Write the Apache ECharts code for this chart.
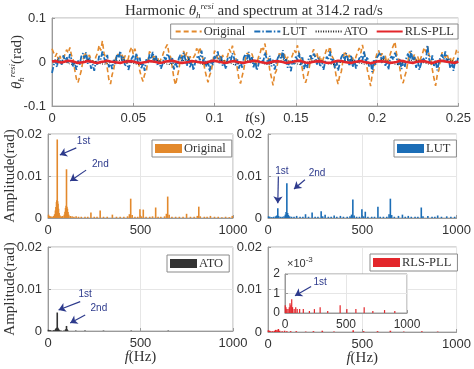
<!DOCTYPE html>
<html><head><meta charset="utf-8">
<script src="https://cdn.jsdelivr.net/npm/echarts@6/dist/echarts.min.js"></script>
<style>html,body{margin:0;padding:0;background:#fff}#c{width:474px;height:369px}</style>
</head><body><div id="c"></div>
<script>
// ---------- time-domain traces (rad) ----------
const STEP_FAST = 0.001;   // sample spacing of Original / LUT traces (s)
const STEP_SLOW = 0.002;   // sample spacing of ATO / RLS-PLL traces (s)
const ORIGINAL = [
.030,.034,.012,.020,.002,.014,-.005,.006,.018,.028,.020,.033,.015,.006,-.018,-.038,-.047,-.033,-.020,.002,
.022,.024,.008,.016,.006,.010,-.002,.012,.020,.038,.026,.048,.020,.010,-.014,-.040,-.050,-.029,-.016,.006,
.018,.022,.014,.020,.003,.015,-.004,.009,.026,.034,.018,.030,.014,.008,-.020,-.034,-.044,-.028,-.022,.003,
.024,.028,.009,.017,.005,.011,-.006,.007,.014,.026,.024,.040,.018,.011,-.012,-.037,-.052,-.035,-.018,.005,
.016,.025,.011,.022,.001,.013,-.003,.010,.017,.031,.019,.034,.016,.007,-.017,-.033,-.046,-.030,-.021,.002,
.026,.030,.007,.015,.004,.016,-.001,.008,.013,.029,.022,.037,.021,.012,-.015,-.039,-.049,-.032,-.017,.007,
.020,.023,.013,.019,.006,.009,-.005,.011,.019,.035,.027,.042,.017,.009,-.019,-.035,-.053,-.027,-.020,.001,
.023,.027,.010,.018,.003,.012,-.002,.006,.016,.027,.021,.038,.019,.010,-.016,-.038,-.047,-.034,-.019,.004,
.019,.029,.012,.021,.002,.014,-.004,.009,.018,.030,.023,.035,.015,.008,-.013,-.036,-.050,-.031,-.022,.003,
.025,.024,.008,.016,.005,.010,-.006,.012,.015,.032,.020,.039,.020,.011,-.018,-.034,-.055,-.029,-.018,.006,
.021,.026,.011,.020,.004,.015,-.003,.007,.017,.028,.025,.046,.018,.009,-.014,-.040,-.048,-.033,-.021,.002,
.024,.028,.009,.017,.003,.013,-.001,.010,.020,.033,.022,.036,.016,.007,-.017,-.037,-.054,-.030,-.019,.005,
.022,.025,.010,.019,.006,.011,-.004,.008,.014,.029,.021];
const LUT = [
-.025,-.008,.005,-.012,.010,.002,-.006,.015,.004,.012,
-.003,.018,.006,-.010,-.002,-.018,.003,-.007,.012,.020,
.008,.022,-.004,.010,-.015,-.005,-.020,.002,-.008,.014,
.006,.024,.010,-.002,.016,-.012,.000,-.016,.005,-.006,
.018,.009,.025,.003,.012,-.010,.004,-.018,-.004,.008,
.014,.002,.020,-.006,.010,-.014,-.002,-.020,.006,-.003,
.017,.007,.023,-.001,.014,-.008,.003,-.015,-.005,.011,
.005,.019,.012,-.004,.009,-.017,-.001,-.012,.008,.016,
.002,.021,.007,-.009,.013,-.013,.006,-.019,-.003,.009,
.015,.004,.026,.000,.011,-.011,.002,-.022,.005,-.007,
.013,.008,.024,-.003,.015,-.009,-.004,-.016,.007,.012,
.003,.020,.009,-.008,.006,-.015,.001,-.013,.010,.018,
.006,.023,-.002,.011,-.012,.004,-.019,-.006,.009,.013,
.001,.022,.008,-.005,.014,-.010,.005,-.017,-.002,.010,
.016,.006,.027,.002,.008,-.013,.000,-.021,.004,-.005,
.012,.005,.021,-.007,.013,-.016,-.003,-.014,.009,.015,
.004,.019,.011,-.006,.010,-.011,.003,-.018,-.001,.012,
.007,.024,-.003,.009,-.014,.002,-.020,-.004,.011,.017,
.002,.020,.008,-.009,.016,-.012,.006,-.015,-.003,.008,
.014,.003,.025,-.002,.012,-.010,.001,-.023,.006,-.006,
.011,.009,.022,-.004,.014,-.008,-.002,-.017,.008,.013,
.005,.021,.010,-.007,.007,-.016,.002,-.012,.009,.019,
.003,.026,-.001,.012,-.013,.005,-.018,-.005,.010,.014,
.000,.038,.007,-.006,.015,-.009,.004,-.019,-.002,.011,
.017,.005,.024,.001,.009,-.014,-.001,-.020,.003,-.004,
.012];
const ATO = [
.002,.004,.005,.003,.000,-.003,-.006,-.005,-.002,.001,
.003,.005,.004,.002,-.001,-.004,-.005,-.004,-.001,.002,
.003,.004,.005,.002,.000,-.003,-.005,-.006,-.002,.000,
.002,.005,.004,.003,-.001,-.004,-.006,-.004,-.001,.001,
.003,.004,.006,.002,.000,-.002,-.005,-.005,-.003,.001,
.002,.005,.004,.003,-.001,-.003,-.006,-.004,-.002,.000,
.003,.004,.005,.003,.000,-.004,-.005,-.005,-.001,.002,
.002,.005,.005,.002,-.001,-.003,-.006,-.004,-.002,.001,
.003,.004,.004,.003,.000,-.004,-.005,-.006,-.001,.000,
.002,.005,.005,.002,-.001,-.003,-.005,-.004,-.002,.002,
.003,.004,.006,.003,.000,-.004,-.006,-.005,-.001,.001,
.002,.005,.004,.002,-.001,-.003,-.005,-.004,-.003,.000,
.003,.004,.005,.003,.000,.001];
const RLS_PLL = [
.001,.002,.000,-.001,.001,.003,.002,.000,-.002,-.001,
.000,.002,.001,-.001,-.002,.000,.001,.003,.001,.000,
-.001,-.002,.000,.001,.002,.001,-.001,-.003,-.001,.000,
.002,.001,.000,-.002,-.001,.001,.002,.003,.001,-.001,
-.002,-.001,.000,.002,.001,.000,-.001,-.002,.000,.002,
.003,.001,.000,-.002,-.001,.001,.002,.000,-.001,-.002,
.000,.001,.003,.002,.000,-.001,-.003,-.001,.001,.002,
.001,.000,-.002,-.001,.000,.002,.003,.001,-.001,-.002,
.000,.001,.002,.001,-.001,-.002,-.001,.001,.003,.002,
.000,-.001,-.002,.000,.001,.002,.000,-.001,-.003,-.001,
.001,.002,.001,.000,-.002,-.001,.000,.003,.002,.000,
-.001,-.002,.000,.001,.002,.001,-.001,-.002,.000,.002,
.003,.001,.000,-.001,-.002,.001];

// ---------- spectra: [frequency Hz, amplitude rad] ----------
const ORIGINAL_SPEC = [[3,.0008],[8,.0005],[15,.0004],[22,.0003],[30,.0005],[36,.0009],[40,.0018],[43,.0026],[46,.0038],[48,.0042],
[50,.0187],[52,.0040],[54,.0034],[57,.0022],[60,.0012],[65,.0006],[72,.0004],[80,.0005],[88,.0008],[92,.0015],
[95,.0024],[98,.0029],[100,.0116],[102,.0027],[105,.0022],[108,.0014],[112,.0008],[120,.0005],[130,.0004],[140,.0003],
[152,.0004],[165,.0003],[180,.0003],[200,.0003],[215,.0003],[232,.0013],[250,.0003],[265,.0003],[282,.0018],[300,.0003],
[320,.0003],[348,.0008],[370,.0003],[390,.0003],[410,.0003],[430,.0004],[440,.0009],[447,.0046],[455,.0007],[470,.0003],
[485,.0003],[497,.0021],[505,.0004],[515,.0020],[530,.0003],[550,.0003],[565,.0004],[582,.0025],[595,.0003],[610,.0003],
[630,.0004],[640,.0010],[647,.0051],[655,.0008],[670,.0003],[690,.0003],[710,.0003],[730,.0003],[749,.0010],[770,.0003],
[790,.0003],[807,.0005],[815,.0027],[823,.0004],[845,.0003],[860,.0003],[878,.0005],[900,.0003],[920,.0003],[940,.0002],
[960,.0003],[980,.0002],[996,.0005]];
const LUT_SPEC = [[3,.0004],[10,.0003],[20,.0002],[30,.0003],[40,.0004],[46,.0006],[52,.0023],[56,.0005],[65,.0003],[75,.0003],
[85,.0004],[92,.0008],[96,.0014],[100,.0083],[104,.0012],[108,.0007],[115,.0004],[125,.0003],[138,.0003],[152,.0005],
[170,.0003],[185,.0003],[199,.0009],[215,.0003],[234,.0013],[250,.0003],[265,.0003],[282,.0016],[290,.0004],[303,.0008],
[320,.0003],[335,.0003],[351,.0006],[365,.0003],[384,.0005],[400,.0003],[420,.0003],[435,.0004],[443,.0008],[450,.0044],
[457,.0006],[470,.0003],[485,.0003],[498,.0021],[507,.0004],[516,.0015],[530,.0003],[550,.0003],[565,.0003],[583,.0027],
[595,.0003],[612,.0003],[630,.0003],[642,.0009],[649,.0046],[656,.0007],[670,.0003],[692,.0005],[713,.0008],[728,.0003],
[744,.0005],[760,.0003],[780,.0003],[795,.0003],[813,.0025],[822,.0004],[848,.0005],[870,.0003],[885,.0003],[900,.0006],
[920,.0003],[948,.0004],[970,.0003],[990,.0003]];
const ATO_SPEC = [[2,.0003],[6,.0002],[12,.0002],[20,.0001],[30,.0002],[38,.0003],[42,.0005],[45,.0007],[48,.0008],[50,.0044],
[52,.0008],[55,.0006],[58,.0004],[62,.0002],[70,.0001],[85,.0001],[94,.0003],[97,.0004],[100,.0012],[103,.0004],
[106,.0002],[150,.0001],[200,.0001],[300,.0001],[450,.0001],[650,.0001]];
const RLS_PLL_SPEC = [[2,.0004],[8,.0003],[15,.0002],[25,.0002],[35,.0003],[41,.0005],[48,.0004],[55,.0007],[62,.0003],[75,.0002],
[88,.0003],[100,.0002],[120,.0002],[150,.0002],[200,.0001],[241,.0002],[288,.0003],[350,.0001],[452,.0004],[507,.0002],
[581,.0002],[649,.0003],[720,.0001],[816,.00015],[900,.0001]];

// ---------- ticks ----------
const T_TICKS = {min:0, max:0.25, interval:0.05};
const TH_TICKS = {min:-0.1, max:0.1, interval:0.1};
const F_TICKS = {min:0, max:1000, interval:500};
const AMP_TICKS = {min:0, max:0.02, interval:0.01};
const INSET_TICKS = {min:0, max:0.002, interval:0.001};

const C_ORIG='#E3892C', C_LUT='#1B6DB6', C_ATO='#1a1a1a', C_RLS='#E3262B', C_ANN='#2d3a8c';
const SERIF='Liberation Serif, DejaVu Serif, serif', SANS='Liberation Sans, Arial, sans-serif';

const toXY = (arr, step) => arr.map((v,i)=>[+(i*step).toFixed(4), v]);

function axis(gi, ticks, extra, fs){
  return Object.assign({
    gridIndex:gi, type:'value', min:ticks.min, max:ticks.max, interval:ticks.interval,
    nameMoveOverlap:false,
    axisLine:{show:true, onZero:false, lineStyle:{color:'#9a9a9a'}},
    axisTick:{show:true, inside:true, length:3, lineStyle:{color:'#9a9a9a'}},
    splitLine:{show:true, lineStyle:{color:'#e6e6e6', width:1}},
    axisLabel:{color:'#333', fontFamily:SANS, fontSize:fs||13, margin:6, formatter:v=>String(v)},
  }, extra||{});
}
const nameStyle = {fontFamily:SERIF, fontSize:15, color:'#333',
  rich:{i:{fontFamily:SERIF, fontSize:15, fontStyle:'italic', color:'#333'},
        th:{fontFamily:SERIF, fontSize:15, fontStyle:'italic', color:'#333'},
        sub:{fontFamily:SERIF, fontSize:9, fontStyle:'italic', color:'#333', verticalAlign:'bottom', lineHeight:18},
        sup:{fontFamily:SERIF, fontSize:9, fontStyle:'italic', color:'#333', verticalAlign:'top', lineHeight:18}}};

function arrows(list){
  return {silent:true, symbol:['none','arrow'], symbolSize:7, z:9, animation:false,
    lineStyle:{color:C_ANN, width:1.2, type:'solid'}, label:{show:false},
    emphasis:{disabled:true},
    data:list.map(a=>[{coord:a[0]},{coord:a[1]}])};
}
function texts(list){
  return {silent:true, symbol:'circle', symbolSize:1, z:9, animation:false,
    itemStyle:{color:'rgba(0,0,0,0)'},
    label:{show:true, position:'inside', color:C_ANN, fontFamily:SANS, fontSize:10, formatter:p=>p.name},
    data:list.map(t=>({name:t[0], coord:t[1]}))};
}
function specLegend(name, left, top){
  return {data:[name], left:left, top:top, icon:'rect', itemWidth:27, itemHeight:9, itemGap:4,
    padding:[2,3,2,3], borderColor:'#8a8a8a', borderWidth:1, backgroundColor:'#fff',
    textStyle:{fontFamily:SERIF, fontSize:12.5, color:'#333', padding:[0,0,0,-3]}, selectedMode:false};
}

const option = {
  animation:false,
  backgroundColor:'#fff',
  title:{text:'Harmonic {th|θ}{sub|h}{sup|resi} and spectrum at 314.2 rad/s', left:120, top:-3,
    textStyle:Object.assign({}, nameStyle, {fontSize:15, fontWeight:'normal', lineHeight:18})},
  grid:[
    {left:47, top:18, width:412, height:88, show:true, borderColor:'#b0b0b0', borderWidth:1},
    {left:48, top:134, width:185, height:84, show:true, borderColor:'#b0b0b0', borderWidth:1},
    {left:268, top:134, width:192, height:84, show:true, borderColor:'#b0b0b0', borderWidth:1},
    {left:48, top:247, width:185, height:84, show:true, borderColor:'#b0b0b0', borderWidth:1},
    {left:268, top:247, width:192, height:85, show:true, borderColor:'#b0b0b0', borderWidth:1},
    {left:285, top:274, width:122, height:39, show:true, z:5, backgroundColor:'#fff', borderColor:'#9a9a9a', borderWidth:1}
  ],
  legend:[
    {data:['Original','LUT','ATO','RLS-PLL'], right:16, top:24, itemWidth:26, itemHeight:10, itemGap:8,
     padding:[1,4,1,4], borderColor:'#8a8a8a', borderWidth:1, backgroundColor:'#fff', selectedMode:false,
     itemStyle:{color:'rgba(0,0,0,0)', borderColor:'rgba(0,0,0,0)', borderWidth:0},
     textStyle:{fontFamily:SERIF, fontSize:12.5, color:'#333', padding:[0,0,0,-3]}},
    specLegend('Original ', 152, 140),
    specLegend('LUT ', 394, 140),
    specLegend('ATO ', 167, 255),
    specLegend('RLS-PLL ', 370, 254)
  ],
  xAxis:[
    axis(0, T_TICKS, {name:'{i|t}(s)', nameLocation:'middle', nameGap:5, nameTextStyle:nameStyle}),
    axis(1, F_TICKS),
    axis(2, F_TICKS),
    axis(3, F_TICKS, {name:'{i|f}(Hz)', nameLocation:'middle', nameGap:19, nameTextStyle:nameStyle}),
    axis(4, F_TICKS, {name:'{i|f}(Hz)', nameLocation:'middle', nameGap:19, nameTextStyle:nameStyle}),
    axis(5, F_TICKS, {z:6}, 12)
  ],
  yAxis:[
    axis(0, TH_TICKS, {name:'{th|θ}{sub|h}{sup|resi}(rad)', nameLocation:'middle', nameGap:26, nameTextStyle:Object.assign({}, nameStyle, {lineHeight:18})}),
    axis(1, AMP_TICKS, {name:'Amplitude(rad)', nameLocation:'middle', nameGap:30, nameTextStyle:nameStyle}),
    axis(2, AMP_TICKS),
    axis(3, AMP_TICKS, {name:'Amplitude(rad)', nameLocation:'middle', nameGap:30, nameTextStyle:nameStyle}),
    axis(4, AMP_TICKS),
    axis(5, INSET_TICKS, {z:6, name:'×10{s|-3}', nameLocation:'end', nameGap:2,
      nameTextStyle:{fontFamily:SANS, fontSize:11, color:'#333', align:'left', padding:[0,0,0,2],
        rich:{s:{fontFamily:SANS, fontSize:8, color:'#333', verticalAlign:'top', lineHeight:16}}},
      axisLabel:{color:'#333', fontFamily:SANS, fontSize:12, margin:5, formatter:v=>String(Math.round(v*1000))}})
  ],
  series:[
    {name:'Original', type:'line', xAxisIndex:0, yAxisIndex:0, symbol:'none', data:toXY(ORIGINAL, STEP_FAST),
     lineStyle:{color:C_ORIG, width:1.6, type:[5,3]}, itemStyle:{color:C_ORIG}},
    {name:'LUT', type:'line', xAxisIndex:0, yAxisIndex:0, symbol:'none', data:toXY(LUT, STEP_FAST),
     lineStyle:{color:C_LUT, width:1.8, type:[6,2,1.5,2]}, itemStyle:{color:C_LUT}},
    {name:'ATO', type:'line', xAxisIndex:0, yAxisIndex:0, symbol:'none', data:toXY(ATO, STEP_SLOW),
     lineStyle:{color:C_ATO, width:1, type:[1,1.5]}, itemStyle:{color:C_ATO}},
    {name:'RLS-PLL', type:'line', xAxisIndex:0, yAxisIndex:0, symbol:'none', data:toXY(RLS_PLL, STEP_SLOW),
     lineStyle:{color:C_RLS, width:2.6}, itemStyle:{color:C_RLS}},

    {name:'Original ', type:'bar', xAxisIndex:1, yAxisIndex:1, barWidth:1.6, data:ORIGINAL_SPEC, itemStyle:{color:C_ORIG},
     markLine:arrows([[[153,.0167],[64,.0150]],[[206,.0114],[120,.0088]]]),
     markPoint:texts([['1st',[192,.0183]],['2nd',[283,.0129]]])},
    {name:'LUT ', type:'bar', xAxisIndex:2, yAxisIndex:2, barWidth:1.6, data:LUT_SPEC, itemStyle:{color:C_LUT},
     markLine:arrows([[[55,.0099],[52,.0035]],[[196,.0091],[138,.0069]]]),
     markPoint:texts([['1st',[74,.0111]],['2nd',[260,.0107]]])},
    {name:'ATO ', type:'bar', xAxisIndex:3, yAxisIndex:3, barWidth:1.6, data:ATO_SPEC, itemStyle:{color:'#333'},
     markLine:arrows([[[174,.0070],[57,.0050]],[[201,.0038],[120,.0019]]]),
     markPoint:texts([['1st',[201,.0087]],['2nd',[275,.0055]]])},
    {name:'RLS-PLL ', type:'bar', xAxisIndex:4, yAxisIndex:4, barWidth:1.6, data:RLS_PLL_SPEC, itemStyle:{color:C_RLS}},
    {name:'RLS-PLL inset', type:'bar', xAxisIndex:5, yAxisIndex:5, barWidth:1.2, z:7, data:RLS_PLL_SPEC, itemStyle:{color:C_RLS},
     markLine:arrows([[[214,.00136],[82,.00088]]]),
     markPoint:texts([['1st',[288,.00157]]])}
  ]
};
const chart = echarts.init(document.getElementById('c'), null, {renderer:'canvas'});
chart.setOption(option);
</script></body></html>
